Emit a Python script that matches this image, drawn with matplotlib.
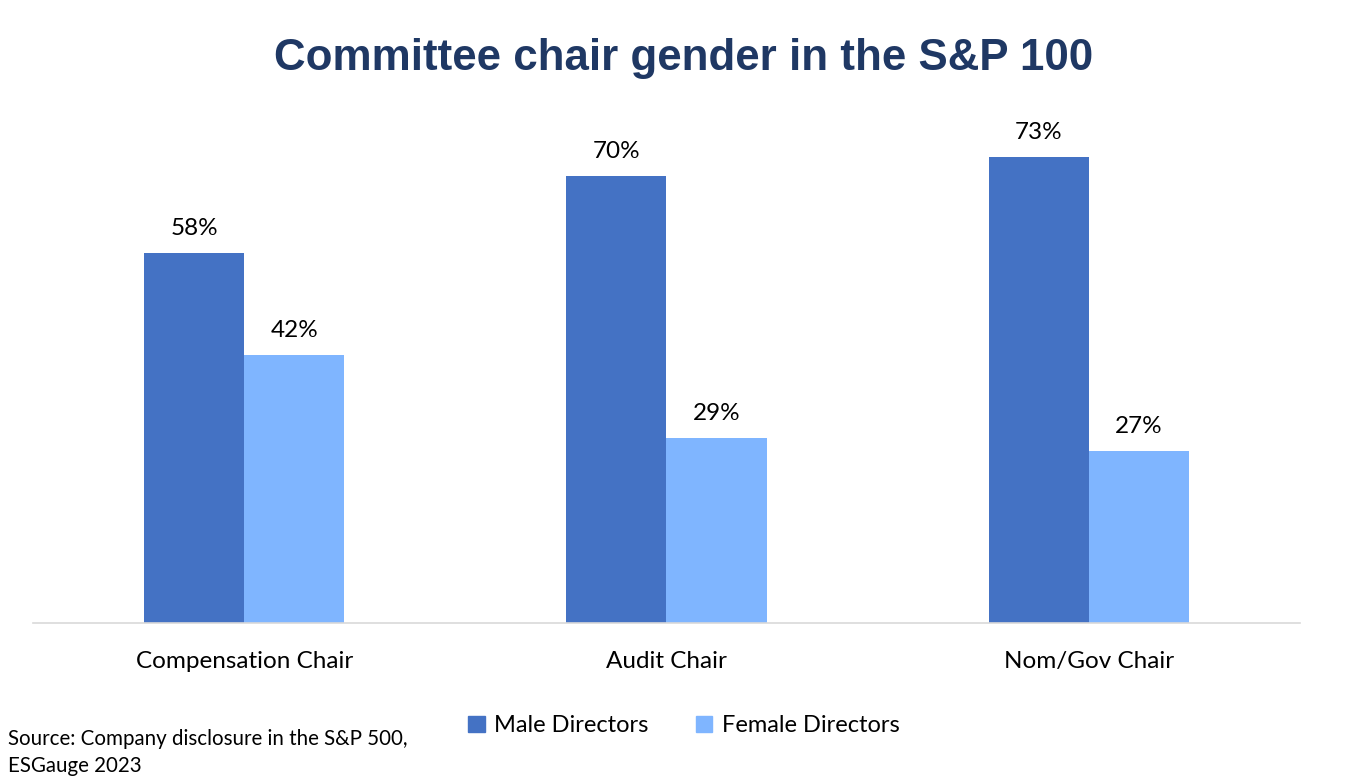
import matplotlib.pyplot as plt
import numpy as np
from matplotlib.patches import Patch

# Chart data
categories = ['Compensation Chair', 'Audit Chair', 'Nom/Gov Chair']
male = [58, 70, 73]
female = [42, 29, 27]
series_names = ['Male Directors', 'Female Directors']

male_color = '#4472C4'
female_color = '#7FB5FF'
body_font = 'Lato'

fig = plt.figure(figsize=(13.46, 7.84), dpi=100)
ax = fig.add_axes([0.0245, 0.2054, 0.9413, 0.6516])

x = np.arange(len(categories))
w = 0.237
b1 = ax.bar(x - w / 2, male, w, color=male_color)
b2 = ax.bar(x + w / 2, female, w, color=female_color)

for bars, vals in [(b1, male), (b2, female)]:
    for rect, v in zip(bars, vals):
        ax.annotate(f'{v}%', (rect.get_x() + rect.get_width() / 2, v),
                    xytext=(0, 10), textcoords='offset points',
                    ha='center', va='bottom', fontsize=17.5,
                    family=body_font, color='black')

ax.set_xlim(-0.5, len(categories) - 0.5)
ax.set_ylim(0, 80)
ax.set_yticks([])
ax.set_xticks(x)
ax.set_xticklabels(categories, fontsize=17.5, family=body_font)
ax.tick_params(axis='x', length=0, pad=20)
for s in ['top', 'right', 'left']:
    ax.spines[s].set_visible(False)
ax.spines['bottom'].set_color('#D9D9D9')
ax.spines['bottom'].set_linewidth(1.2)

fig.text(0.508, 0.925, 'Committee chair gender in the S&P 100',
         ha='center', va='center', fontsize=31.6, fontweight='bold',
         family='Liberation Sans', color='#1F3864')

handles = [Patch(color=male_color), Patch(color=female_color)]
fig.legend(handles, series_names, loc='center', bbox_to_anchor=(0.508, 0.074),
           ncol=2, frameon=False, handlelength=0.7,
           handleheight=0.7, handletextpad=0.4, columnspacing=2.0,
           prop={'family': body_font, 'size': 17})

fig.text(0.006, 0.040, 'Source: Company disclosure in the S&P 500,\nESGauge 2023',
         ha='left', va='center', fontsize=14.8, family=body_font,
         linespacing=1.45)

plt.savefig('out.png', dpi=100)
